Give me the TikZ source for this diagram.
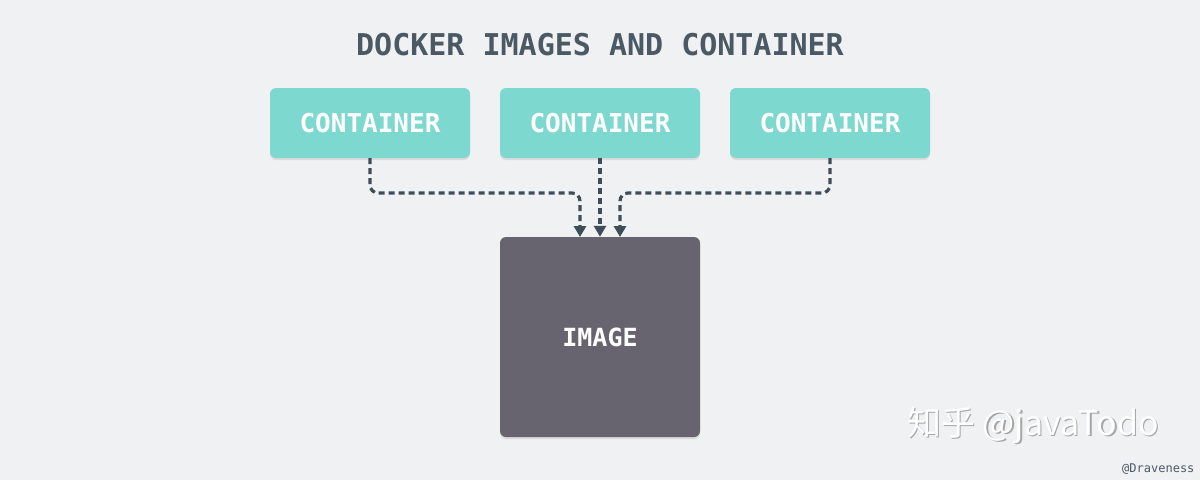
\documentclass[tikz,border=0pt]{standalone}
\usepackage{fontspec}
\setmonofont{DejaVu Sans Mono}
\newfontfamily\cjk{Noto Sans CJK SC}
\usetikzlibrary{arrows.meta,shadows}
\definecolor{bg}{HTML}{F0F1F3}
\definecolor{teal}{HTML}{7DD9CF}
\definecolor{imgc}{HTML}{67646F}
\definecolor{ink}{HTML}{3E4E59}
\definecolor{title}{HTML}{4A5964}
\tikzset{
  shd/.style={drop shadow={opacity=0.18,shadow xshift=0pt,shadow yshift=-2pt}},
  cont/.style={fill=teal,shd,rounded corners=6pt,minimum width=200pt,minimum height=70pt,inner sep=0pt,
    text=white,font=\ttfamily\bfseries\fontsize{26pt}{30pt}\selectfont},
  conn/.style={draw=ink,line width=3.2pt,dash pattern=on 6pt off 4pt,rounded corners=8pt,
    -{Triangle[width=12pt,length=11pt]}},
}
\begin{document}
\begin{tikzpicture}[x=1pt,y=-1pt]
\fill[bg] (0,0) rectangle (1200,480);
\useasboundingbox (0,0) rectangle (1200,480);
\node[text=title,font=\ttfamily\bfseries\fontsize{30pt}{34pt}\selectfont] (t) at (600,45) {DOCKER IMAGES AND CONTAINER};
\node[cont] (c1) at (370,123) {CONTAINER};
\node[cont] (c2) at (600,123) {CONTAINER};
\node[cont] (c3) at (830,123) {CONTAINER};
\node[fill=imgc,shd,rounded corners=6pt,minimum width=200pt,minimum height=200pt,text=white,
  font=\ttfamily\bfseries\fontsize{25pt}{30pt}\selectfont] (img) at (600,337) {IMAGE};
\coordinate (e1) at (580,237);
\coordinate (e3) at (620,237);
\draw[conn] (c1.south) |- (580,193) -- (e1);
\draw[conn] (c2.south) -- (img.north);
\draw[conn] (c3.south) |- (620,193) -- (e3);
\node[text=gray!70,font=\fontsize{34pt}{38pt}\selectfont] (wms) at (1034.5,426.5) {\cjk 知乎 @javaTodo};
\node[text=white,font=\fontsize{34pt}{38pt}\selectfont] (wm) at (1033,425) {\cjk 知乎 @javaTodo};
\node[text=title,font=\ttfamily\fontsize{12pt}{14pt}\selectfont,anchor=south east] (dr) at (1198,478) {@Draveness};
\end{tikzpicture}
\end{document}
